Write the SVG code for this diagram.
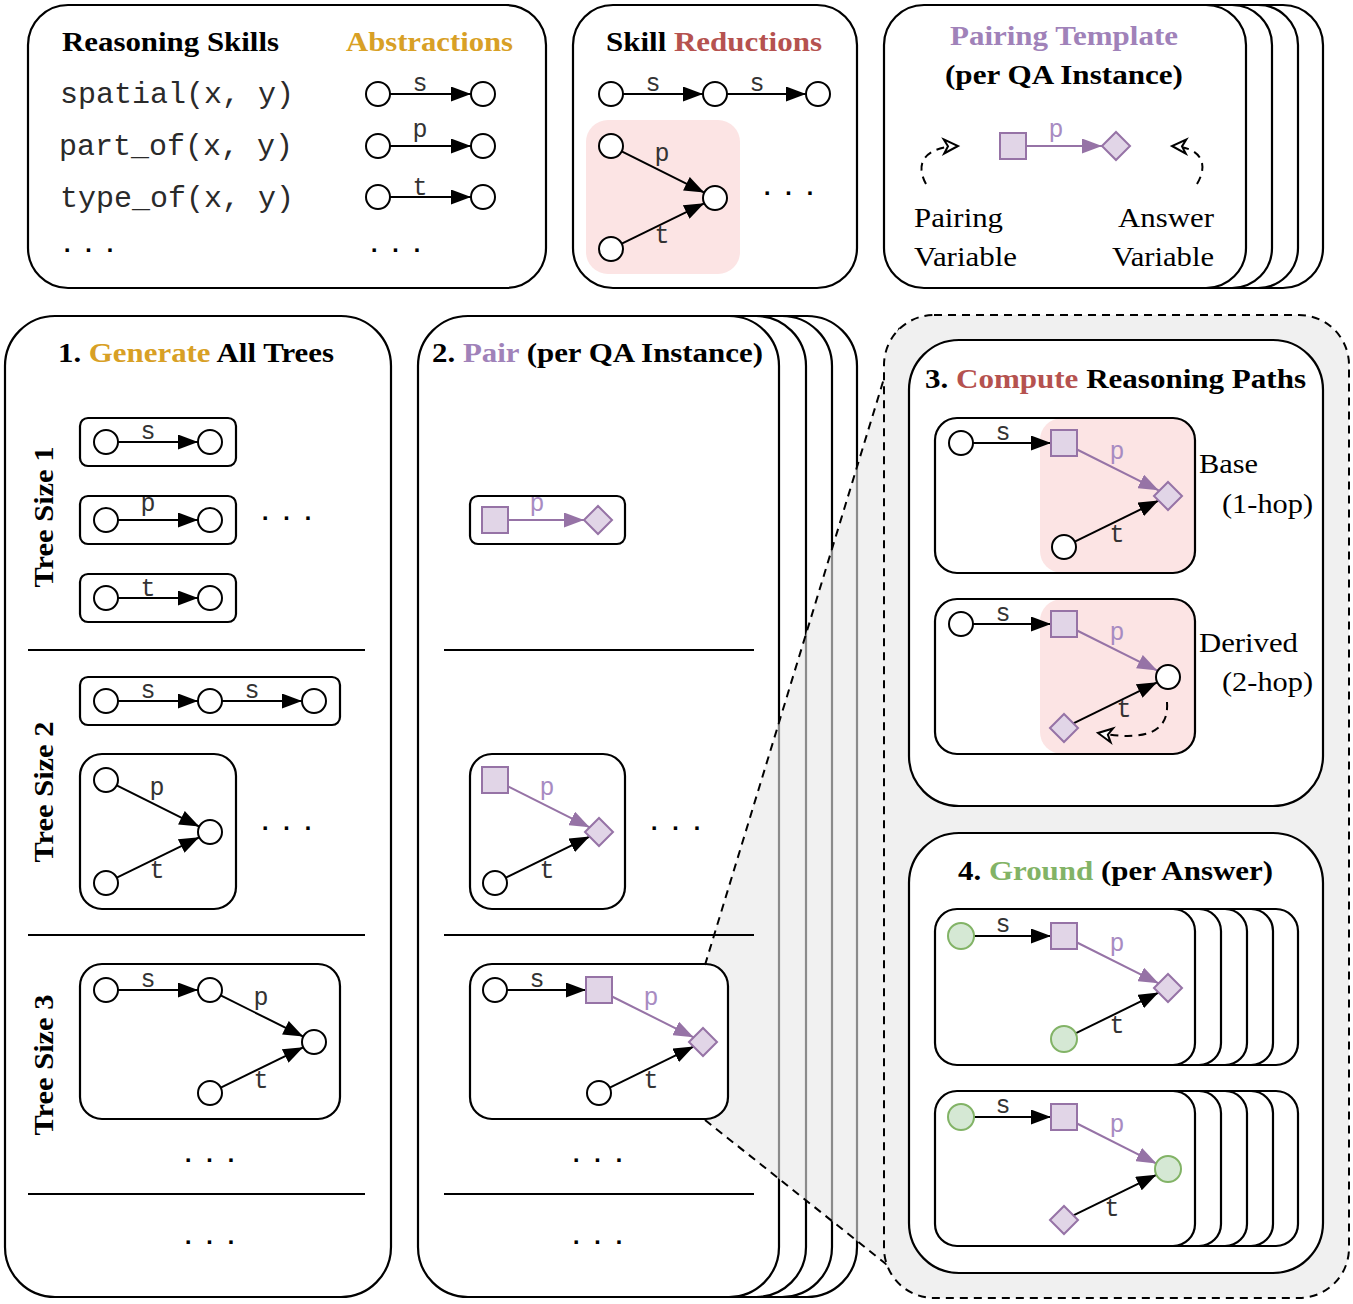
<svg xmlns="http://www.w3.org/2000/svg" width="1353" height="1304" viewBox="0 0 1353 1304">
<defs>
<style>
.box{fill:#fff;stroke:#000;stroke-width:2.2}
.e{stroke:#000;stroke-width:2;fill:none}
.pe{stroke:#9673A6;stroke-width:2;fill:none}
.n{fill:#fff;stroke:#000;stroke-width:2}
.sq{fill:#E1D5E7;stroke:#9673A6;stroke-width:2}
.gn{fill:#D5E8D4;stroke:#82B366;stroke-width:2}
.lb{font-family:"Liberation Mono",monospace;font-size:25px;fill:#333;text-anchor:middle}
.plb{font-family:"Liberation Mono",monospace;font-size:25px;fill:#A88BC2;text-anchor:middle}
.mono{font-family:"Liberation Mono",monospace;font-size:30px;fill:#2a2a2a}
.dots{font-family:"Liberation Mono",monospace;font-size:24px;fill:#000;letter-spacing:7px;text-anchor:middle;font-weight:bold}
.t{font-family:"Liberation Serif",serif;font-weight:bold;font-size:28px;fill:#000}
.s{font-family:"Liberation Serif",serif;font-size:28px;fill:#000}
.gold{fill:#D8A025}.red{fill:#B5524F}.pur{fill:#A082B9}.grn{fill:#82B366}
.sep{stroke:#000;stroke-width:2}
.dash{stroke:#000;stroke-width:2;fill:none;stroke-dasharray:8 6}
</style>
<marker id="ah" markerUnits="userSpaceOnUse" markerWidth="20" markerHeight="15" refX="20" refY="7.5" orient="auto"><path d="M0,0L20,7.5L0,15z" fill="#000"/></marker>
<marker id="ahp" markerUnits="userSpaceOnUse" markerWidth="20" markerHeight="15" refX="20" refY="7.5" orient="auto"><path d="M0,0L20,7.5L0,15z" fill="#9673A6"/></marker>
<marker id="op" markerUnits="userSpaceOnUse" markerWidth="20" markerHeight="18" refX="16" refY="9" orient="auto" overflow="visible"><path d="M2,2L16,9L2,16L6,9z" fill="#fff" stroke="#000" stroke-width="2" stroke-linejoin="miter"/></marker>
</defs>
<rect width="1353" height="1304" fill="#fff"/>

<!-- Reasoning Skills / Abstractions -->
<g id="skills">
<rect class="box" x="28" y="5" width="518" height="283" rx="40"/>
<text class="t" x="62" y="51" textLength="217" lengthAdjust="spacingAndGlyphs">Reasoning Skills</text>
<text class="t gold" x="346" y="51" textLength="167" lengthAdjust="spacingAndGlyphs">Abstractions</text>
<text class="mono" x="60" y="103">spatial(x, y)</text>
<text class="mono" x="59" y="155">part_of(x, y)</text>
<text class="mono" x="60" y="207">type_of(x, y)</text>
<text class="dots" x="92" y="252">...</text>
<text class="dots" x="399" y="252">...</text>
<line class="e" x1="390" y1="94" x2="471" y2="94" marker-end="url(#ah)"/>
<circle class="n" cx="378" cy="94" r="12"/><circle class="n" cx="483" cy="94" r="12"/>
<text class="lb" x="420" y="91">s</text>
<line class="e" x1="390" y1="146" x2="471" y2="146" marker-end="url(#ah)"/>
<circle class="n" cx="378" cy="146" r="12"/><circle class="n" cx="483" cy="146" r="12"/>
<text class="lb" x="420" y="137">p</text>
<line class="e" x1="390" y1="197" x2="471" y2="197" marker-end="url(#ah)"/>
<circle class="n" cx="378" cy="197" r="12"/><circle class="n" cx="483" cy="197" r="12"/>
<text class="lb" x="420" y="195">t</text>
</g>

<!-- Skill Reductions -->
<g id="reductions">
<rect class="box" x="573" y="5" width="284" height="283" rx="40"/>
<text class="t" x="606" y="51" textLength="216" lengthAdjust="spacingAndGlyphs">Skill <tspan class="red">Reductions</tspan></text>
<line class="e" x1="623" y1="94" x2="703" y2="94" marker-end="url(#ah)"/>
<line class="e" x1="727" y1="94" x2="806" y2="94" marker-end="url(#ah)"/>
<circle class="n" cx="611" cy="94" r="12"/><circle class="n" cx="715" cy="94" r="12"/><circle class="n" cx="818" cy="94" r="12"/>
<text class="lb" x="653" y="91">s</text><text class="lb" x="757" y="91">s</text>
<rect x="586" y="120" width="154" height="154" rx="22" fill="#FCE4E4"/>
<line class="e" x1="621.7" y1="151.4" x2="704.3" y2="192.6" marker-end="url(#ah)"/>
<line class="e" x1="621.8" y1="243.7" x2="704.2" y2="203.3" marker-end="url(#ah)"/>
<circle class="n" cx="611" cy="146" r="12"/><circle class="n" cx="715" cy="198" r="12"/><circle class="n" cx="611" cy="249" r="12"/>
<text class="lb" x="662" y="161">p</text><text class="lb" x="662" y="243">t</text>
<text class="dots" x="792" y="195">...</text>
</g>

<!-- Pairing Template -->
<g id="pairing-template">
<rect class="box" x="961" y="5" width="362" height="283" rx="40"/>
<rect class="box" x="936" y="5" width="362" height="283" rx="40"/>
<rect class="box" x="910" y="5" width="362" height="283" rx="40"/>
<rect class="box" x="884" y="5" width="362" height="283" rx="40"/>
<text class="t pur" x="950" y="45" textLength="228" lengthAdjust="spacingAndGlyphs">Pairing Template</text>
<text class="t" x="945" y="84" textLength="238" lengthAdjust="spacingAndGlyphs">(per QA Instance)</text>
<line class="pe" x1="1026" y1="146" x2="1102" y2="146" marker-end="url(#ahp)"/>
<rect class="sq" x="1000" y="133" width="26" height="26"/>
<polygon class="sq" points="1102,146 1116,132 1130,146 1116,160"/>
<text class="plb" x="1056" y="137">p</text>
<path class="dash" d="M926,184 C914,162 926,147 958,146" marker-end="url(#op)"/>
<path class="dash" d="M1197,184 C1210,162 1199,147 1172,146" marker-end="url(#op)"/>
<text class="s" x="914" y="227" textLength="89" lengthAdjust="spacingAndGlyphs">Pairing</text>
<text class="s" x="914" y="266" textLength="103" lengthAdjust="spacingAndGlyphs">Variable</text>
<text class="s" x="1118" y="227" textLength="96" lengthAdjust="spacingAndGlyphs">Answer</text>
<text class="s" x="1112" y="266" textLength="102" lengthAdjust="spacingAndGlyphs">Variable</text>
</g>

<!-- Panel 1 -->
<g id="generate">
<rect class="box" x="5" y="316" width="386" height="981" rx="50"/>
<text class="t" x="58" y="362" textLength="276" lengthAdjust="spacingAndGlyphs">1. <tspan class="gold">Generate</tspan> All Trees</text>
<text class="t" x="53" y="517" text-anchor="middle" transform="rotate(-90 53 517)" textLength="141" lengthAdjust="spacingAndGlyphs">Tree Size 1</text>
<text class="t" x="53" y="792" text-anchor="middle" transform="rotate(-90 53 792)" textLength="141" lengthAdjust="spacingAndGlyphs">Tree Size 2</text>
<text class="t" x="53" y="1065" text-anchor="middle" transform="rotate(-90 53 1065)" textLength="141" lengthAdjust="spacingAndGlyphs">Tree Size 3</text>
<line class="sep" x1="28" y1="650" x2="365" y2="650"/>
<line class="sep" x1="28" y1="935" x2="365" y2="935"/>
<line class="sep" x1="28" y1="1194" x2="365" y2="1194"/>
<g id="g1-s1">
<rect class="box" x="80" y="418" width="156" height="48" rx="8"/>
<line class="e" x1="118" y1="442" x2="198" y2="442" marker-end="url(#ah)"/>
<circle class="n" cx="106" cy="442" r="12"/><circle class="n" cx="210" cy="442" r="12"/>
<text class="lb" x="148" y="439">s</text>
</g>
<g id="g1-s2">
<rect class="box" x="80" y="496" width="156" height="48" rx="8"/>
<line class="e" x1="118" y1="520" x2="198" y2="520" marker-end="url(#ah)"/>
<circle class="n" cx="106" cy="520" r="12"/><circle class="n" cx="210" cy="520" r="12"/>
<text class="lb" x="148" y="511">p</text>
</g>
<g id="g1-s3">
<rect class="box" x="80" y="574" width="156" height="48" rx="8"/>
<line class="e" x1="118" y1="598" x2="198" y2="598" marker-end="url(#ah)"/>
<circle class="n" cx="106" cy="598" r="12"/><circle class="n" cx="210" cy="598" r="12"/>
<text class="lb" x="148" y="596">t</text>
</g>
<text class="dots" x="290" y="520">...</text>
<g id="g1-chain">
<rect class="box" x="80" y="677" width="260" height="48" rx="8"/>
<line class="e" x1="118" y1="701" x2="198" y2="701" marker-end="url(#ah)"/>
<line class="e" x1="222" y1="701" x2="302" y2="701" marker-end="url(#ah)"/>
<circle class="n" cx="106" cy="701" r="12"/><circle class="n" cx="210" cy="701" r="12"/><circle class="n" cx="314" cy="701" r="12"/>
<text class="lb" x="148" y="698">s</text><text class="lb" x="252" y="698">s</text>
</g>
<g id="g1-y">
<rect class="box" x="80" y="754" width="156" height="155" rx="22"/>
<line class="e" x1="116.7" y1="785.4" x2="199.3" y2="826.6" marker-end="url(#ah)"/>
<line class="e" x1="116.8" y1="877.7" x2="199.2" y2="837.3" marker-end="url(#ah)"/>
<circle class="n" cx="106" cy="780" r="12"/><circle class="n" cx="210" cy="832" r="12"/><circle class="n" cx="106" cy="883" r="12"/>
<text class="lb" x="157" y="795">p</text><text class="lb" x="157" y="878">t</text>
</g>
<text class="dots" x="290" y="830">...</text>
<g id="g1-t3">
<rect class="box" x="80" y="964" width="260" height="155" rx="22"/>
<line class="e" x1="118" y1="990" x2="198" y2="990" marker-end="url(#ah)"/>
<line class="e" x1="220.7" y1="995.4" x2="303.3" y2="1036.6" marker-end="url(#ah)"/>
<line class="e" x1="220.8" y1="1087.7" x2="303.2" y2="1047.3" marker-end="url(#ah)"/>
<circle class="n" cx="106" cy="990" r="12"/><circle class="n" cx="210" cy="990" r="12"/><circle class="n" cx="314" cy="1042" r="12"/><circle class="n" cx="210" cy="1093" r="12"/>
<text class="lb" x="148" y="987">s</text><text class="lb" x="261" y="1005">p</text><text class="lb" x="261" y="1088">t</text>
</g>
<text class="dots" x="213" y="1162">...</text>
<text class="dots" x="213" y="1244">...</text>
</g>

<!-- Panel 2 -->
<g id="pair">
<rect class="box" x="496" y="316" width="361" height="981" rx="50"/>
<rect class="box" x="471" y="316" width="361" height="981" rx="50"/>
<rect class="box" x="445" y="316" width="361" height="981" rx="50"/>
<rect class="box" x="418" y="316" width="361" height="981" rx="50"/>
<polygon points="705,965 900,326 960,320 960,1295 925,1295 705,1120" fill="#e8e8e8" fill-opacity="0.6"/>
<text class="t" x="432" y="362" textLength="331" lengthAdjust="spacingAndGlyphs">2. <tspan class="pur">Pair</tspan> (per QA Instance)</text>
<line class="sep" x1="444" y1="650" x2="754" y2="650"/>
<line class="sep" x1="444" y1="935" x2="754" y2="935"/>
<line class="sep" x1="444" y1="1194" x2="754" y2="1194"/>
<g id="g2-s1">
<rect class="box" x="470" y="496" width="155" height="48" rx="8"/>
<line class="pe" x1="508" y1="520" x2="584" y2="520" marker-end="url(#ahp)"/>
<rect class="sq" x="482" y="507" width="26" height="26"/>
<polygon class="sq" points="584,520 598,506 612,520 598,534"/>
<text class="plb" x="537" y="511">p</text>
</g>
<g id="g2-y">
<rect class="box" x="470" y="754" width="155" height="155" rx="22"/>
<line class="pe" x1="508" y1="786.5" x2="589.6" y2="827.3" marker-end="url(#ahp)"/>
<line class="e" x1="505.8" y1="877.7" x2="589.6" y2="836.6" marker-end="url(#ah)"/>
<rect class="sq" x="482" y="767" width="26" height="26"/>
<polygon class="sq" points="585,832 599,818 613,832 599,846"/>
<circle class="n" cx="495" cy="883" r="12"/>
<text class="plb" x="547" y="795">p</text><text class="lb" x="547" y="878">t</text>
</g>
<text class="dots" x="679" y="830">...</text>
<g id="g2-t3">
<rect class="box" x="470" y="964" width="258" height="155" rx="22"/>
<line class="e" x1="507" y1="990" x2="586" y2="990" marker-end="url(#ah)"/>
<line class="pe" x1="612" y1="996.5" x2="693.6" y2="1037.3" marker-end="url(#ahp)"/>
<line class="e" x1="609.8" y1="1087.7" x2="693.6" y2="1046.6" marker-end="url(#ah)"/>
<circle class="n" cx="495" cy="990" r="12"/>
<rect class="sq" x="586" y="977" width="26" height="26"/>
<polygon class="sq" points="689,1042 703,1028 717,1042 703,1056"/>
<circle class="n" cx="599" cy="1093" r="12"/>
<text class="lb" x="537" y="987">s</text><text class="plb" x="651" y="1005">p</text><text class="lb" x="651" y="1088">t</text>
</g>
<text class="dots" x="601" y="1162">...</text>
<text class="dots" x="601" y="1244">...</text>
</g>

<g id="zoom-connectors">
<line class="dash" x1="705" y1="965" x2="900" y2="326"/>
<line class="dash" x1="705" y1="1120" x2="925" y2="1295"/>
</g>

<g id="zoom-region">
<rect x="884" y="315" width="465" height="983" rx="50" fill="#f0f0f0" stroke="#000" stroke-width="2" stroke-dasharray="8 6"/>
</g>

<!-- Panel 3 -->
<g id="compute">
<rect class="box" x="909" y="340" width="414" height="466" rx="50"/>
<text class="t" x="925" y="388" textLength="381" lengthAdjust="spacingAndGlyphs">3. <tspan class="red">Compute</tspan> Reasoning Paths</text>
<g id="base">
<rect x="935" y="418" width="260" height="155" rx="22" fill="#fff"/>
<rect x="1040" y="418" width="155" height="155" rx="22" fill="#FCE4E4"/>
<rect x="935" y="418" width="260" height="155" rx="22" fill="none" stroke="#000" stroke-width="2.2"/>
<line class="e" x1="973" y1="443" x2="1051" y2="443" marker-end="url(#ah)"/>
<line class="pe" x1="1077" y1="449.5" x2="1158.6" y2="490.3" marker-end="url(#ahp)"/>
<line class="e" x1="1074.8" y1="541.7" x2="1158.6" y2="500.6" marker-end="url(#ah)"/>
<circle class="n" cx="961" cy="443" r="12"/>
<rect class="sq" x="1051" y="430" width="26" height="26"/>
<polygon class="sq" points="1154,496 1168,482 1182,496 1168,510"/>
<circle class="n" cx="1064" cy="547" r="12"/>
<text class="lb" x="1003" y="440">s</text><text class="plb" x="1117" y="459">p</text><text class="lb" x="1117" y="542">t</text>
</g>
<text class="s" x="1199" y="473" textLength="59" lengthAdjust="spacingAndGlyphs">Base</text>
<text class="s" x="1222" y="513" textLength="91" lengthAdjust="spacingAndGlyphs">(1-hop)</text>
<g id="derived">
<rect x="935" y="599" width="260" height="155" rx="22" fill="#fff"/>
<rect x="1040" y="599" width="155" height="155" rx="22" fill="#FCE4E4"/>
<rect x="935" y="599" width="260" height="155" rx="22" fill="none" stroke="#000" stroke-width="2.2"/>
<line class="e" x1="973" y1="624" x2="1051" y2="624" marker-end="url(#ah)"/>
<line class="pe" x1="1077" y1="630.5" x2="1157.3" y2="670.6" marker-end="url(#ahp)"/>
<line class="e" x1="1073.4" y1="723.4" x2="1157.2" y2="682.3" marker-end="url(#ah)"/>
<circle class="n" cx="961" cy="624" r="12"/>
<rect class="sq" x="1051" y="611" width="26" height="26"/>
<circle class="n" cx="1168" cy="677" r="12"/>
<polygon class="sq" points="1050,728 1064,714 1078,728 1064,742"/>
<path class="dash" d="M1167,702 C1169,730 1150,742 1098,733" marker-end="url(#op)"/>
<text class="lb" x="1003" y="621">s</text><text class="plb" x="1117" y="640">p</text><text class="lb" x="1124" y="717">t</text>
</g>
<text class="s" x="1199" y="652" textLength="99" lengthAdjust="spacingAndGlyphs">Derived</text>
<text class="s" x="1222" y="691" textLength="91" lengthAdjust="spacingAndGlyphs">(2-hop)</text>
</g>

<!-- Panel 4 -->
<g id="ground">
<rect class="box" x="909" y="833" width="414" height="440" rx="50"/>
<text class="t" x="958" y="880" textLength="315" lengthAdjust="spacingAndGlyphs">4. <tspan class="grn">Ground</tspan> (per Answer)</text>
<g id="ground-1">
<rect class="box" x="1038" y="909" width="260" height="156" rx="22"/>
<rect class="box" x="1013" y="909" width="260" height="156" rx="22"/>
<rect class="box" x="987" y="909" width="260" height="156" rx="22"/>
<rect class="box" x="961" y="909" width="260" height="156" rx="22"/>
<rect class="box" x="935" y="909" width="260" height="156" rx="22"/>
<line class="e" x1="974" y1="936" x2="1051" y2="936" marker-end="url(#ah)"/>
<line class="pe" x1="1077" y1="942.5" x2="1158.6" y2="983.3" marker-end="url(#ahp)"/>
<line class="e" x1="1075" y1="1033.7" x2="1158.6" y2="992.6" marker-end="url(#ah)"/>
<circle class="gn" cx="961" cy="936" r="13"/>
<rect class="sq" x="1051" y="923" width="26" height="26"/>
<polygon class="sq" points="1154,988 1168,974 1182,988 1168,1002"/>
<circle class="gn" cx="1064" cy="1039" r="13"/>
<text class="lb" x="1003" y="932">s</text><text class="plb" x="1117" y="951">p</text><text class="lb" x="1117" y="1033">t</text>
</g>
<g id="ground-2">
<rect class="box" x="1038" y="1091" width="260" height="155" rx="22"/>
<rect class="box" x="1013" y="1091" width="260" height="155" rx="22"/>
<rect class="box" x="987" y="1091" width="260" height="155" rx="22"/>
<rect class="box" x="961" y="1091" width="260" height="155" rx="22"/>
<rect class="box" x="935" y="1091" width="260" height="155" rx="22"/>
<line class="e" x1="974" y1="1117" x2="1051" y2="1117" marker-end="url(#ah)"/>
<line class="pe" x1="1077" y1="1123.5" x2="1156.5" y2="1163.6" marker-end="url(#ahp)"/>
<line class="e" x1="1073.4" y1="1215.4" x2="1156.4" y2="1174.8" marker-end="url(#ah)"/>
<circle class="gn" cx="961" cy="1117" r="13"/>
<rect class="sq" x="1051" y="1104" width="26" height="26"/>
<circle class="gn" cx="1168" cy="1169" r="13"/>
<polygon class="sq" points="1050,1220 1064,1206 1078,1220 1064,1234"/>
<text class="lb" x="1003" y="1113">s</text><text class="plb" x="1117" y="1132">p</text><text class="lb" x="1112" y="1216">t</text>
</g>
</g>
</svg>
